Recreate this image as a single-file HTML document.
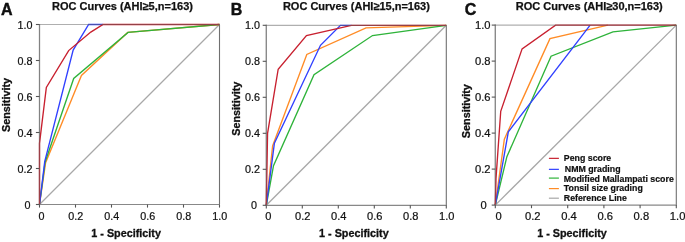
<!DOCTYPE html>
<html><head><meta charset="utf-8"><style>
html,body{margin:0;padding:0;background:#fff;}
svg{display:block;}
text{font-family:"Liberation Sans", Arial, sans-serif;fill:#111;}
.t{font-size:10px;stroke:#111;stroke-width:0.2px;}
.b{font-size:10.8px;font-weight:bold;stroke:#111;stroke-width:0.3px;}
.ti{font-size:11px;font-weight:bold;stroke:#111;stroke-width:0.25px;}
.pl{font-size:16px;font-weight:bold;stroke:#000;stroke-width:0.4px;}
.lg{font-size:8.8px;font-weight:bold;stroke:#111;stroke-width:0.2px;}
</style></head><body>
<svg width="685" height="242" viewBox="0 0 685 242">
<rect width="685" height="242" fill="#fff"/>
<line x1="39.50" y1="24.00" x2="39.50" y2="204.50" stroke="#999" stroke-width="1.2"/>
<line x1="39.50" y1="204.50" x2="219.50" y2="24.50" stroke="#a8a8a8" stroke-width="1.3"/>
<polyline points="39.50,204.50 45.62,162.74 81.44,75.44 127.70,32.42 219.50,24.50" fill="none" stroke="#ff8c26" stroke-width="1.35" stroke-linejoin="miter"/>
<polyline points="39.50,204.50 45.08,162.20 73.70,78.50 128.06,32.42 219.50,24.50" fill="none" stroke="#2eb33a" stroke-width="1.35" stroke-linejoin="miter"/>
<polyline points="39.50,204.50 44.72,161.66 73.16,50.06 88.64,24.50 103.04,24.50" fill="none" stroke="#3040ff" stroke-width="1.35" stroke-linejoin="miter"/>
<polyline points="39.50,204.50 39.50,143.30 46.34,87.50 68.66,50.60 90.80,32.06 103.04,24.50 219.50,24.50" fill="none" stroke="#c8202f" stroke-width="1.35" stroke-linejoin="miter"/>
<line x1="39.50" y1="24.50" x2="219.50" y2="24.50" stroke="#606060" stroke-opacity="0.5" stroke-width="1.2"/>
<line x1="219.50" y1="24.50" x2="219.50" y2="204.50" stroke="#707070" stroke-width="1.1"/>
<line x1="39.50" y1="24.00" x2="39.50" y2="204.50" stroke="#666" stroke-opacity="0.45" stroke-width="1.2"/>
<line x1="39.50" y1="204.50" x2="220.00" y2="204.50" stroke="#888" stroke-width="1.2"/>
<line x1="35.90" y1="204.50" x2="39.50" y2="204.50" stroke="#555" stroke-width="1.1"/>
<line x1="39.50" y1="204.50" x2="39.50" y2="207.60" stroke="#555" stroke-width="1.1"/>
<text transform="translate(30.60,208.80) scale(1.08,1)" text-anchor="end" class="t">0</text>
<text transform="translate(41.55,220.00) scale(1.08,1)" text-anchor="middle" class="t">0</text>
<line x1="35.90" y1="168.50" x2="39.50" y2="168.50" stroke="#555" stroke-width="1.1"/>
<line x1="75.50" y1="204.50" x2="75.50" y2="207.60" stroke="#555" stroke-width="1.1"/>
<text transform="translate(32.40,172.80) scale(1.08,1)" text-anchor="end" class="t">0.2</text>
<text transform="translate(75.75,220.00) scale(1.08,1)" text-anchor="middle" class="t">0.2</text>
<line x1="35.90" y1="132.50" x2="39.50" y2="132.50" stroke="#555" stroke-width="1.1"/>
<line x1="111.50" y1="204.50" x2="111.50" y2="207.60" stroke="#555" stroke-width="1.1"/>
<text transform="translate(32.40,136.80) scale(1.08,1)" text-anchor="end" class="t">0.4</text>
<text transform="translate(111.75,220.00) scale(1.08,1)" text-anchor="middle" class="t">0.4</text>
<line x1="35.90" y1="96.50" x2="39.50" y2="96.50" stroke="#555" stroke-width="1.1"/>
<line x1="147.50" y1="204.50" x2="147.50" y2="207.60" stroke="#555" stroke-width="1.1"/>
<text transform="translate(32.40,100.80) scale(1.08,1)" text-anchor="end" class="t">0.6</text>
<text transform="translate(147.75,220.00) scale(1.08,1)" text-anchor="middle" class="t">0.6</text>
<line x1="35.90" y1="60.50" x2="39.50" y2="60.50" stroke="#555" stroke-width="1.1"/>
<line x1="183.50" y1="204.50" x2="183.50" y2="207.60" stroke="#555" stroke-width="1.1"/>
<text transform="translate(32.40,64.80) scale(1.08,1)" text-anchor="end" class="t">0.8</text>
<text transform="translate(183.75,220.00) scale(1.08,1)" text-anchor="middle" class="t">0.8</text>
<line x1="35.90" y1="24.50" x2="39.50" y2="24.50" stroke="#555" stroke-width="1.1"/>
<line x1="219.50" y1="204.50" x2="219.50" y2="207.60" stroke="#555" stroke-width="1.1"/>
<text transform="translate(32.40,28.80) scale(1.08,1)" text-anchor="end" class="t">1.0</text>
<text transform="translate(219.75,220.00) scale(1.08,1)" text-anchor="middle" class="t">1.0</text>
<text x="126.10" y="237.10" text-anchor="middle" class="b">1 - Specificity</text>
<text transform="translate(10.00,105.00) rotate(-90)" text-anchor="middle" class="b">Sensitivity</text>
<text x="122.50" y="9.6" text-anchor="middle" class="ti">ROC Curves (AHI≥5,n=163)</text>
<text x="0.90" y="15.0" class="pl">A</text>
<line x1="266.30" y1="24.80" x2="266.30" y2="205.30" stroke="#999" stroke-width="1.2"/>
<line x1="266.30" y1="205.30" x2="446.30" y2="25.30" stroke="#a8a8a8" stroke-width="1.3"/>
<polyline points="266.30,205.30 272.60,145.90 306.80,54.46 366.02,27.82 446.30,25.30" fill="none" stroke="#ff8c26" stroke-width="1.35" stroke-linejoin="miter"/>
<polyline points="266.30,205.30 273.50,165.70 314.00,74.80 372.50,35.56 446.30,25.30" fill="none" stroke="#2eb33a" stroke-width="1.35" stroke-linejoin="miter"/>
<polyline points="266.30,205.30 274.40,143.20 320.48,45.28 340.46,25.30 351.44,25.30" fill="none" stroke="#3040ff" stroke-width="1.35" stroke-linejoin="miter"/>
<polyline points="266.30,205.30 267.56,133.30 278.18,69.22 306.44,35.56 351.44,25.30 446.30,25.30" fill="none" stroke="#c8202f" stroke-width="1.35" stroke-linejoin="miter"/>
<line x1="266.30" y1="25.30" x2="446.30" y2="25.30" stroke="#606060" stroke-opacity="0.5" stroke-width="1.2"/>
<line x1="446.30" y1="25.30" x2="446.30" y2="205.30" stroke="#707070" stroke-width="1.1"/>
<line x1="266.30" y1="24.80" x2="266.30" y2="205.30" stroke="#666" stroke-opacity="0.45" stroke-width="1.2"/>
<line x1="266.30" y1="205.30" x2="446.80" y2="205.30" stroke="#888" stroke-width="1.2"/>
<line x1="262.70" y1="205.30" x2="266.30" y2="205.30" stroke="#555" stroke-width="1.1"/>
<line x1="266.30" y1="205.30" x2="266.30" y2="208.40" stroke="#555" stroke-width="1.1"/>
<text transform="translate(257.10,208.65) scale(1.08,1)" text-anchor="end" class="t">0</text>
<text transform="translate(268.25,219.50) scale(1.11,1)" text-anchor="middle" class="t">0</text>
<line x1="262.70" y1="169.30" x2="266.30" y2="169.30" stroke="#555" stroke-width="1.1"/>
<line x1="302.30" y1="205.30" x2="302.30" y2="208.40" stroke="#555" stroke-width="1.1"/>
<text transform="translate(260.00,172.65) scale(1.08,1)" text-anchor="end" class="t">0.2</text>
<text transform="translate(302.80,219.50) scale(1.11,1)" text-anchor="middle" class="t">0.2</text>
<line x1="262.70" y1="133.30" x2="266.30" y2="133.30" stroke="#555" stroke-width="1.1"/>
<line x1="338.30" y1="205.30" x2="338.30" y2="208.40" stroke="#555" stroke-width="1.1"/>
<text transform="translate(260.00,136.65) scale(1.08,1)" text-anchor="end" class="t">0.4</text>
<text transform="translate(338.80,219.50) scale(1.11,1)" text-anchor="middle" class="t">0.4</text>
<line x1="262.70" y1="97.30" x2="266.30" y2="97.30" stroke="#555" stroke-width="1.1"/>
<line x1="374.30" y1="205.30" x2="374.30" y2="208.40" stroke="#555" stroke-width="1.1"/>
<text transform="translate(260.00,100.65) scale(1.08,1)" text-anchor="end" class="t">0.6</text>
<text transform="translate(374.80,219.50) scale(1.11,1)" text-anchor="middle" class="t">0.6</text>
<line x1="262.70" y1="61.30" x2="266.30" y2="61.30" stroke="#555" stroke-width="1.1"/>
<line x1="410.30" y1="205.30" x2="410.30" y2="208.40" stroke="#555" stroke-width="1.1"/>
<text transform="translate(260.00,64.65) scale(1.08,1)" text-anchor="end" class="t">0.8</text>
<text transform="translate(410.80,219.50) scale(1.11,1)" text-anchor="middle" class="t">0.8</text>
<line x1="262.70" y1="25.30" x2="266.30" y2="25.30" stroke="#555" stroke-width="1.1"/>
<line x1="446.30" y1="205.30" x2="446.30" y2="208.40" stroke="#555" stroke-width="1.1"/>
<text transform="translate(260.00,28.65) scale(1.08,1)" text-anchor="end" class="t">1.0</text>
<text transform="translate(446.80,219.50) scale(1.11,1)" text-anchor="middle" class="t">1.0</text>
<text x="353.85" y="236.50" text-anchor="middle" class="b">1 - Specificity</text>
<text transform="translate(240.40,108.70) rotate(-90)" text-anchor="middle" class="b">Sensitivity</text>
<text x="356.40" y="9.6" text-anchor="middle" class="ti">ROC Curves (AHI≥15,n=163)</text>
<text x="230.70" y="15.0" class="pl">B</text>
<line x1="495.30" y1="24.60" x2="495.30" y2="205.10" stroke="#999" stroke-width="1.2"/>
<line x1="495.30" y1="205.10" x2="676.30" y2="25.10" stroke="#a8a8a8" stroke-width="1.3"/>
<polyline points="495.30,205.10 504.35,139.22 549.96,38.60 607.88,25.10" fill="none" stroke="#ff8c26" stroke-width="1.35" stroke-linejoin="miter"/>
<polyline points="495.30,205.10 506.88,156.68 551.05,56.24 612.95,31.94 676.30,25.10" fill="none" stroke="#2eb33a" stroke-width="1.35" stroke-linejoin="miter"/>
<polyline points="495.30,205.10 508.33,131.84 590.14,25.10" fill="none" stroke="#3040ff" stroke-width="1.35" stroke-linejoin="miter"/>
<polyline points="495.30,205.10 496.02,178.10 500.73,111.32 522.09,48.86 555.57,25.10 676.30,25.10" fill="none" stroke="#c8202f" stroke-width="1.35" stroke-linejoin="miter"/>
<line x1="495.30" y1="25.10" x2="676.30" y2="25.10" stroke="#606060" stroke-opacity="0.5" stroke-width="1.2"/>
<line x1="676.30" y1="25.10" x2="676.30" y2="205.10" stroke="#707070" stroke-width="1.1"/>
<line x1="495.30" y1="24.60" x2="495.30" y2="205.10" stroke="#666" stroke-opacity="0.45" stroke-width="1.2"/>
<line x1="495.30" y1="205.10" x2="676.80" y2="205.10" stroke="#888" stroke-width="1.2"/>
<line x1="491.70" y1="205.10" x2="495.30" y2="205.10" stroke="#555" stroke-width="1.1"/>
<line x1="495.30" y1="205.10" x2="495.30" y2="208.20" stroke="#555" stroke-width="1.1"/>
<text transform="translate(486.70,209.20) scale(1.12,1)" text-anchor="end" class="t">0</text>
<text transform="translate(498.55,220.10) scale(1.12,1)" text-anchor="middle" class="t">0</text>
<line x1="491.70" y1="169.10" x2="495.30" y2="169.10" stroke="#555" stroke-width="1.1"/>
<line x1="531.50" y1="205.10" x2="531.50" y2="208.20" stroke="#555" stroke-width="1.1"/>
<text transform="translate(490.60,173.20) scale(1.12,1)" text-anchor="end" class="t">0.2</text>
<text transform="translate(532.80,220.10) scale(1.12,1)" text-anchor="middle" class="t">0.2</text>
<line x1="491.70" y1="133.10" x2="495.30" y2="133.10" stroke="#555" stroke-width="1.1"/>
<line x1="567.70" y1="205.10" x2="567.70" y2="208.20" stroke="#555" stroke-width="1.1"/>
<text transform="translate(490.60,137.20) scale(1.12,1)" text-anchor="end" class="t">0.4</text>
<text transform="translate(569.00,220.10) scale(1.12,1)" text-anchor="middle" class="t">0.4</text>
<line x1="491.70" y1="97.10" x2="495.30" y2="97.10" stroke="#555" stroke-width="1.1"/>
<line x1="603.90" y1="205.10" x2="603.90" y2="208.20" stroke="#555" stroke-width="1.1"/>
<text transform="translate(490.60,101.20) scale(1.12,1)" text-anchor="end" class="t">0.6</text>
<text transform="translate(605.20,220.10) scale(1.12,1)" text-anchor="middle" class="t">0.6</text>
<line x1="491.70" y1="61.10" x2="495.30" y2="61.10" stroke="#555" stroke-width="1.1"/>
<line x1="640.10" y1="205.10" x2="640.10" y2="208.20" stroke="#555" stroke-width="1.1"/>
<text transform="translate(490.60,65.20) scale(1.12,1)" text-anchor="end" class="t">0.8</text>
<text transform="translate(641.40,220.10) scale(1.12,1)" text-anchor="middle" class="t">0.8</text>
<line x1="491.70" y1="25.10" x2="495.30" y2="25.10" stroke="#555" stroke-width="1.1"/>
<line x1="676.30" y1="205.10" x2="676.30" y2="208.20" stroke="#555" stroke-width="1.1"/>
<text transform="translate(490.60,29.20) scale(1.12,1)" text-anchor="end" class="t">1.0</text>
<text transform="translate(677.60,220.10) scale(1.12,1)" text-anchor="middle" class="t">1.0</text>
<text x="572.00" y="237.20" text-anchor="middle" class="b">1 - Specificity</text>
<text transform="translate(470.10,111.15) rotate(-90)" text-anchor="middle" class="b">Sensitivity</text>
<text x="589.30" y="10.2" text-anchor="middle" class="ti">ROC Curves (AHI≥30,n=163)</text>
<text x="464.80" y="15.0" class="pl">C</text>
<line x1="548.9" y1="158.35" x2="558.9" y2="158.35" stroke="#c8202f" stroke-width="1.2"/>
<text x="563.8" y="160.7" class="lg">Peng score</text>
<line x1="548.9" y1="169.35" x2="558.9" y2="169.35" stroke="#3040ff" stroke-width="1.2"/>
<text x="564.8" y="171.9" class="lg">NMM grading</text>
<line x1="548.9" y1="178.1" x2="558.9" y2="178.1" stroke="#2eb33a" stroke-width="1.2"/>
<text x="563.8" y="182.0" class="lg">Modified Mallampati score</text>
<line x1="548.9" y1="188.6" x2="558.9" y2="188.6" stroke="#ff8c26" stroke-width="1.2"/>
<text x="563.8" y="191.3" class="lg">Tonsil size grading</text>
<line x1="548.9" y1="198.2" x2="558.9" y2="198.2" stroke="#a8a8a8" stroke-width="1.2"/>
<text x="563.8" y="201.2" class="lg">Reference Line</text>
</svg>
</body></html>
